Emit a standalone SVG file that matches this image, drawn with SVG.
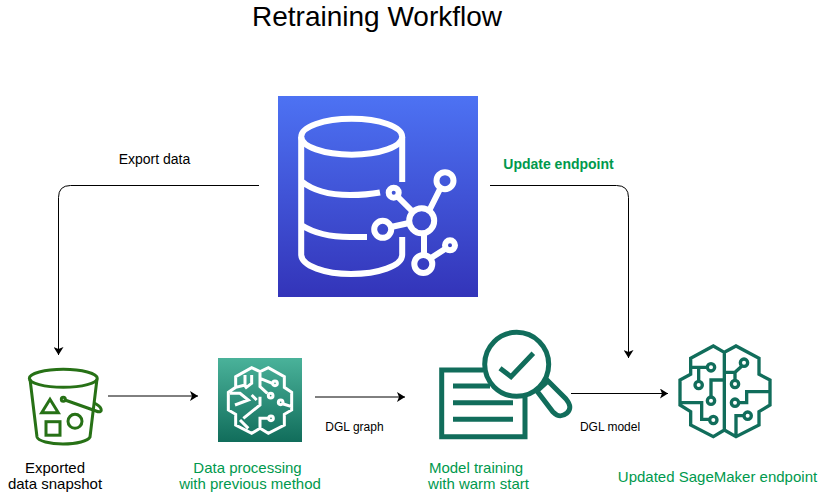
<svg xmlns="http://www.w3.org/2000/svg" width="824" height="492" viewBox="0 0 824 492">
<style>
text{font-family:"Liberation Sans",Arial,sans-serif;text-anchor:middle;fill:#000}
.t{font-size:15px}.s{font-size:12px}.m{font-size:14px}.g{fill:#00994d}
.c{fill:none;stroke:#000;stroke-width:1}
.w{fill:none;stroke:#fff;stroke-width:6}
.w2{fill:none;stroke:#fff;stroke-width:9;stroke-linejoin:miter}
.b{fill:none;stroke:#277116;stroke-width:3}
.k{fill:none;stroke:#116d5b;stroke-width:5}
.e{fill:none;stroke:#116d5b;stroke-width:10}
</style>
<defs>
<linearGradient id="blue" x1="0" y1="0" x2="0" y2="1"><stop offset="0" stop-color="#4d72f3"/><stop offset="1" stop-color="#3334b9"/></linearGradient>
<linearGradient id="teal" x1="0" y1="0" x2="0" y2="1"><stop offset="0" stop-color="#4ab29a"/><stop offset="1" stop-color="#116d5b"/></linearGradient>
<marker id="a" markerUnits="userSpaceOnUse" markerWidth="9" markerHeight="10" refX="8" refY="5" orient="auto"><path d="M0 0L8 5L0 10L2 5Z" fill="#000"/></marker>
</defs>
<text x="377" y="26" style="font-size:28px">Retraining Workflow</text>
<g id="connectors">
<path class="c" marker-end="url(#a)" d="M259 185.500H70.500Q58.500 185.500 58.500 197.500V355"/>
<path class="c" marker-end="url(#a)" d="M490 185.500H616.500Q628.500 185.500 628.500 197.500V358"/>
<path class="c" marker-end="url(#a)" d="M108 396H198"/>
<path class="c" marker-end="url(#a)" d="M315 397H405"/>
<path class="c" marker-end="url(#a)" d="M571 393.500H668"/>
<text class="s" x="354.500" y="431">DGL graph</text>
<text class="s" x="610" y="431">DGL model</text>
<text class="m" x="154.500" y="164">Export data</text>
<text class="g m" x="558.500" y="169" style="font-weight:bold">Update endpoint</text>
</g>
<g id="neptune">
<rect x="278" y="96" width="200" height="201" fill="url(#blue)"/>
<ellipse class="w" cx="351.700" cy="136.700" rx="50.500" ry="18"/>
<path class="w" d="M301.200 137V255C302 266 325 274 351 274C378 274 402 266 402.200 255V237M402.200 137V182M301.200 181C312 190 330 195 350 195C362 195 372 194 380 192.500M301.200 225C312 232 330 237 350 237H367"/>
<circle class="w" cx="421.700" cy="220.700" r="12.500"/>
<circle class="w" cx="445" cy="180.700" r="8.500"/>
<circle class="w" cx="393.700" cy="192.700" r="5"/>
<circle class="w" cx="382.700" cy="229.300" r="8.500"/>
<circle class="w" cx="423.300" cy="264" r="9"/>
<circle class="w" cx="450" cy="245.300" r="5"/>
<path class="w" d="M398 197L412 211M430 209L440 189M409 223L391 227M424 233V255M431 258L445 249"/>
</g>
<g id="snapshot">
<ellipse class="b" cx="63.300" cy="378.300" rx="34" ry="9"/>
<path class="b" d="M30 379L37 437C38 441 50 444 63 444C77 444 88 441 90 437L97 379"/>
<path class="b" stroke-width="2.500" d="M41.700 412.700H58.300L50 399.300Z"/>
<rect class="b" x="46" y="421.700" width="14" height="13.500"/>
<circle class="b" cx="75" cy="421.300" r="7"/>
<circle class="b" cx="63.300" cy="399.300" r="2"/>
<path class="b" d="M65 400L96 411C103 414 103 408 96 404L94 403"/>
<text class="t" x="55" y="473">Exported</text>
<text class="t" x="55" y="488.500">data snapshot</text>
</g>
<g id="processing">
<rect x="218" y="358" width="84" height="84" fill="url(#teal)"/>
<g transform="translate(215 355) scale(.33333)" class="w2">
<path d="M135 50L110 38L62 65V97L40 112V165L62 178V210L110 235L135 220L160 235L208 210V178L230 165V112L208 97V65L160 38L135 50V95L157 115M135 70L172 85M230 155L205 147M135 220V190H160M90 60V90L62 97M110 60V85L90 100M45 115H75L100 135L60 150M135 125V150L85 190M110 120L125 135M75 195L100 220"/>
<circle cx="180" cy="85" r="7"/><circle cx="167" cy="122" r="7"/><circle cx="197" cy="142" r="7"/><circle cx="168" cy="190" r="7"/>
</g>
<text class="t g" x="247.500" y="473">Data processing</text>
<text class="t g" x="250" y="488.500">with previous method</text>
</g>
<g id="training">
<path class="k" d="M483 370H441.700V436.700H525V395M453 386H490M453 402.700H513M453 419.300H513"/>
<circle class="k" cx="516.700" cy="364.300" r="32"/>
<path class="k" d="M500 368.300L511 376.700L533.300 353.300"/>
<path class="k" d="M537 391L548 381L566 399C571 405 571 409 567 413C562 417 558 417 553 412Z"/>
<text class="t g" x="476" y="473">Model training</text>
<text class="t g" x="478.500" y="488.500">with warm start</text>
</g>
<g id="endpoint">
<g transform="translate(600 335) scale(.33333)">
<path class="e" d="M373 52L340 33L272 70V118L240 135V210L272 230V270L340 305L373 285L408 305L477 270V230L510 210V135L477 118V70L408 33L373 52V285M272 97H322M296 97V138M373 135H333V185M240 203H305V253H329M373 112H405L425 94M405 112V135M418 203H440V170H510M432 242H408V305"/>
<circle class="e" cx="333" cy="97" r="11"/><circle class="e" cx="296" cy="150" r="11"/><circle class="e" cx="333" cy="197" r="11"/><circle class="e" cx="340" cy="255" r="11"/><circle class="e" cx="432" cy="83" r="11"/><circle class="e" cx="405" cy="147" r="11"/><circle class="e" cx="405" cy="203" r="11"/><circle class="e" cx="443" cy="242" r="11"/>
</g>
<text class="t g" x="717.500" y="482">Updated SageMaker endpoint</text>
</g>
</svg>
